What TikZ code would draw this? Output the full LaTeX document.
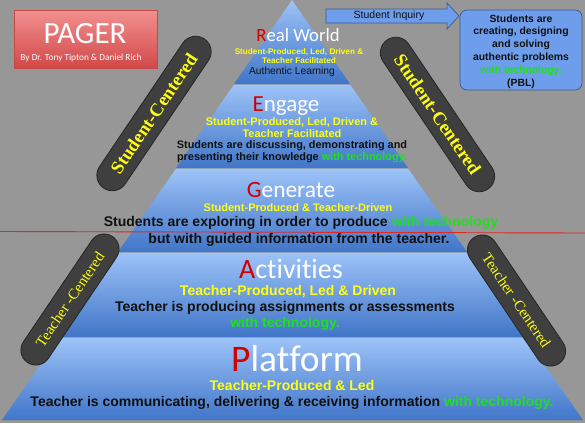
\documentclass[tikz,border=0pt]{standalone}
\usepackage{fontspec}
\setmainfont{Liberation Sans}
\newfontfamily\titlefont[Ligatures=NoCommon]{Carlito}
\newfontfamily\pillfont{Liberation Serif}
\definecolor{bg}{HTML}{979797}
\definecolor{tierTop}{HTML}{9DC3F8}
\definecolor{tierBot}{HTML}{4075C8}
\definecolor{pillfill}{HTML}{3F3F3F}
\definecolor{pilldraw}{HTML}{262626}
\definecolor{ylw}{HTML}{FFFF10}
\definecolor{grn}{HTML}{1EE01E}
\definecolor{initred}{HTML}{D00000}
\definecolor{blk}{HTML}{101010}
\definecolor{boxblue}{HTML}{6E9EEB}
\definecolor{boxdraw}{HTML}{3D5A8A}
\definecolor{pagertop}{HTML}{F29090}
\definecolor{pagerbot}{HTML}{D24848}
\definecolor{pagerdraw}{HTML}{C84848}
\definecolor{redline}{HTML}{E02828}
\newcommand{\fsz}[1]{\fontsize{#1}{#1}\selectfont}
\begin{document}
\begin{tikzpicture}[x=1pt,y=-1pt,
  tier/.style={top color=tierTop, bottom color=tierBot, draw=none},
  ttl/.style={anchor=base, text=white, inner sep=0pt, font=\titlefont},
  yl/.style={anchor=base, text=ylw, inner sep=0pt, font=\bfseries},
  bl/.style={anchor=base, text=blk, inner sep=0pt, font=\bfseries},
  pill/.style={draw=pilldraw, line width=0.8pt, fill=pillfill, text=ylw, inner sep=0pt},
]
\fill[bg] (0,0) rectangle (585,423);
\useasboundingbox (0,0) rectangle (585,423);

% pyramid tiers
\shade[tier] (292,0) -- (350,84) -- (234,84) -- cycle;
\shade[tier] (234,84.6) -- (350,84.6) -- (408,168) -- (176,168) -- cycle;
\shade[tier] (176,168.6) -- (408,168.6) -- (467,252) -- (118,252) -- cycle;
\shade[tier] (118,252.6) -- (467,252.6) -- (525.5,337) -- (59.5,337) -- cycle;
\shade[tier] (59.5,337.6) -- (525.5,337.6) -- (583,420) -- (2,420) -- cycle;

% Real World
\node[ttl, font=\titlefont\fsz{18.7}] (rwt) at (298,41.7) {{\color{initred}R}eal World};
\node[yl, font=\bfseries\fsz{8.2}] (rw1) at (299,54) {Student-Produced, Led, Driven \&};
\node[yl, font=\bfseries\fsz{8.2}] (rw2) at (299,63) {Teacher Facilitated};
\node[bl, font=\fsz{10.3}] (rw3) at (292,74.5) {Authentic Learning};

% Engage
\node[ttl, font=\titlefont\fsz{23}] (ent) at (286,111) {{\color{initred}E}ngage};
\node[yl, font=\bfseries\fsz{11}] (en1) at (292,125) {Student-Produced, Led, Driven \&};
\node[yl, font=\bfseries\fsz{11}] (en2) at (292,137) {Teacher Facilitated};
\node[bl, font=\bfseries\fsz{10.9}] (en3) at (292,148) {Students are discussing, demonstrating and};
\node[bl, font=\bfseries\fsz{10.9}] (en4) at (292,160) {presenting their knowledge \textcolor{grn}{with technology.}};

% Generate
\node[ttl, font=\titlefont\fsz{23.4}] (gnt) at (291,197) {{\color{initred}G}enerate};
\node[yl, font=\bfseries\fsz{11}] (gn1) at (298,211.5) {Student-Produced \& Teacher-Driven};
\node[bl, font=\bfseries\fsz{14}] (gn2) at (301,226.5) {Students are exploring in order to produce \textcolor{grn}{with technology}};
\node[bl, font=\bfseries\fsz{14}] (gn3) at (299,243.5) {but with guided information from the teacher.};

% Activities
\node[ttl, font=\titlefont\fsz{28}] (act) at (291,278) {{\color{initred}A}ctivities};
\node[yl, font=\bfseries\fsz{14}] (ac1) at (288,295) {Teacher-Produced, Led \& Driven};
\node[bl, font=\bfseries\fsz{14}] (ac2) at (285,311.5) {Teacher is producing assignments or assessments};
\node[bl, font=\bfseries\fsz{14}, text=grn] (ac3) at (285,327.5) {with technology.};

% Platform
\node[ttl, font=\titlefont\fsz{37.5}] (plt) at (297,371.5) {{\color{initred}P}latform};
\node[yl, font=\bfseries\fsz{14}] (pl1) at (292,390) {Teacher-Produced \& Led};
\node[bl, font=\bfseries\fsz{14}] (pl2) at (292,406.5) {Teacher is communicating, delivering \& receiving information \textcolor{grn}{with technology.}};

% red line
\coordinate (rl1) at (0,231.5);
\coordinate (rl2) at (585,233);
\draw[redline, line width=0.9pt] (rl1) -- (rl2);

% pills
\node[pill, rounded corners=15.5pt, minimum width=180, minimum height=31, rotate=56, font=\pillfont\bfseries\fsz{18.5}] (scl) at (154,113.5) {Student-Centered};
\node[pill, rounded corners=15.5pt, minimum width=180, minimum height=31, rotate=-56, font=\pillfont\bfseries\fsz{18.5}] (scr) at (437.5,114.5) {Student-Centered};
\node[pill, rounded corners=15pt, minimum width=152, minimum height=30, rotate=56, font=\pillfont\fsz{15}] (tcl) at (70,299.5) {Teacher -Centered};
\node[pill, rounded corners=15pt, minimum width=152, minimum height=30, rotate=-56, font=\pillfont\fsz{15}] (tcr) at (516.5,300.5) {Teacher -Centered};

% PAGER box
\node[draw=pagerdraw, line width=0.6pt, top color=pagertop, bottom color=pagerbot, minimum width=143, minimum height=58, inner sep=0pt] (pager) at (85.5,39) {};
\node[ttl, font=\titlefont\fsz{31}] (pagert) at (85,43) {PAGER};
\node[ttl, font=\titlefont\fsz{9.3}] (pagerb) at (81,60) {By Dr. Tony Tipton \& Daniel Rich};

% Student Inquiry arrow
\draw[draw=boxdraw, line width=0.7pt, fill=boxblue] (326,9) -- (447,9) -- (447,3) -- (459,16) -- (447,29) -- (447,23) -- (326,23) -- cycle;
\node[anchor=center, font=\fsz{10.5}, text=blk, inner sep=0pt] (inq) at (389,16) {Student Inquiry};

% PBL box
\node[draw=boxdraw, line width=0.7pt, fill=boxblue, rounded corners=7pt, minimum width=122, minimum height=80, inner sep=0pt] (pbl) at (521,50) {};
\node[align=center, font=\bfseries\fontsize{10.4}{12.8}\selectfont, text=blk, inner sep=0pt] (pbltext) at (521,51.5) {Students are\\creating, designing\\and solving\\authentic problems\\\textcolor{grn}{with technology.}\\(PBL)};
\end{tikzpicture}
\end{document}
